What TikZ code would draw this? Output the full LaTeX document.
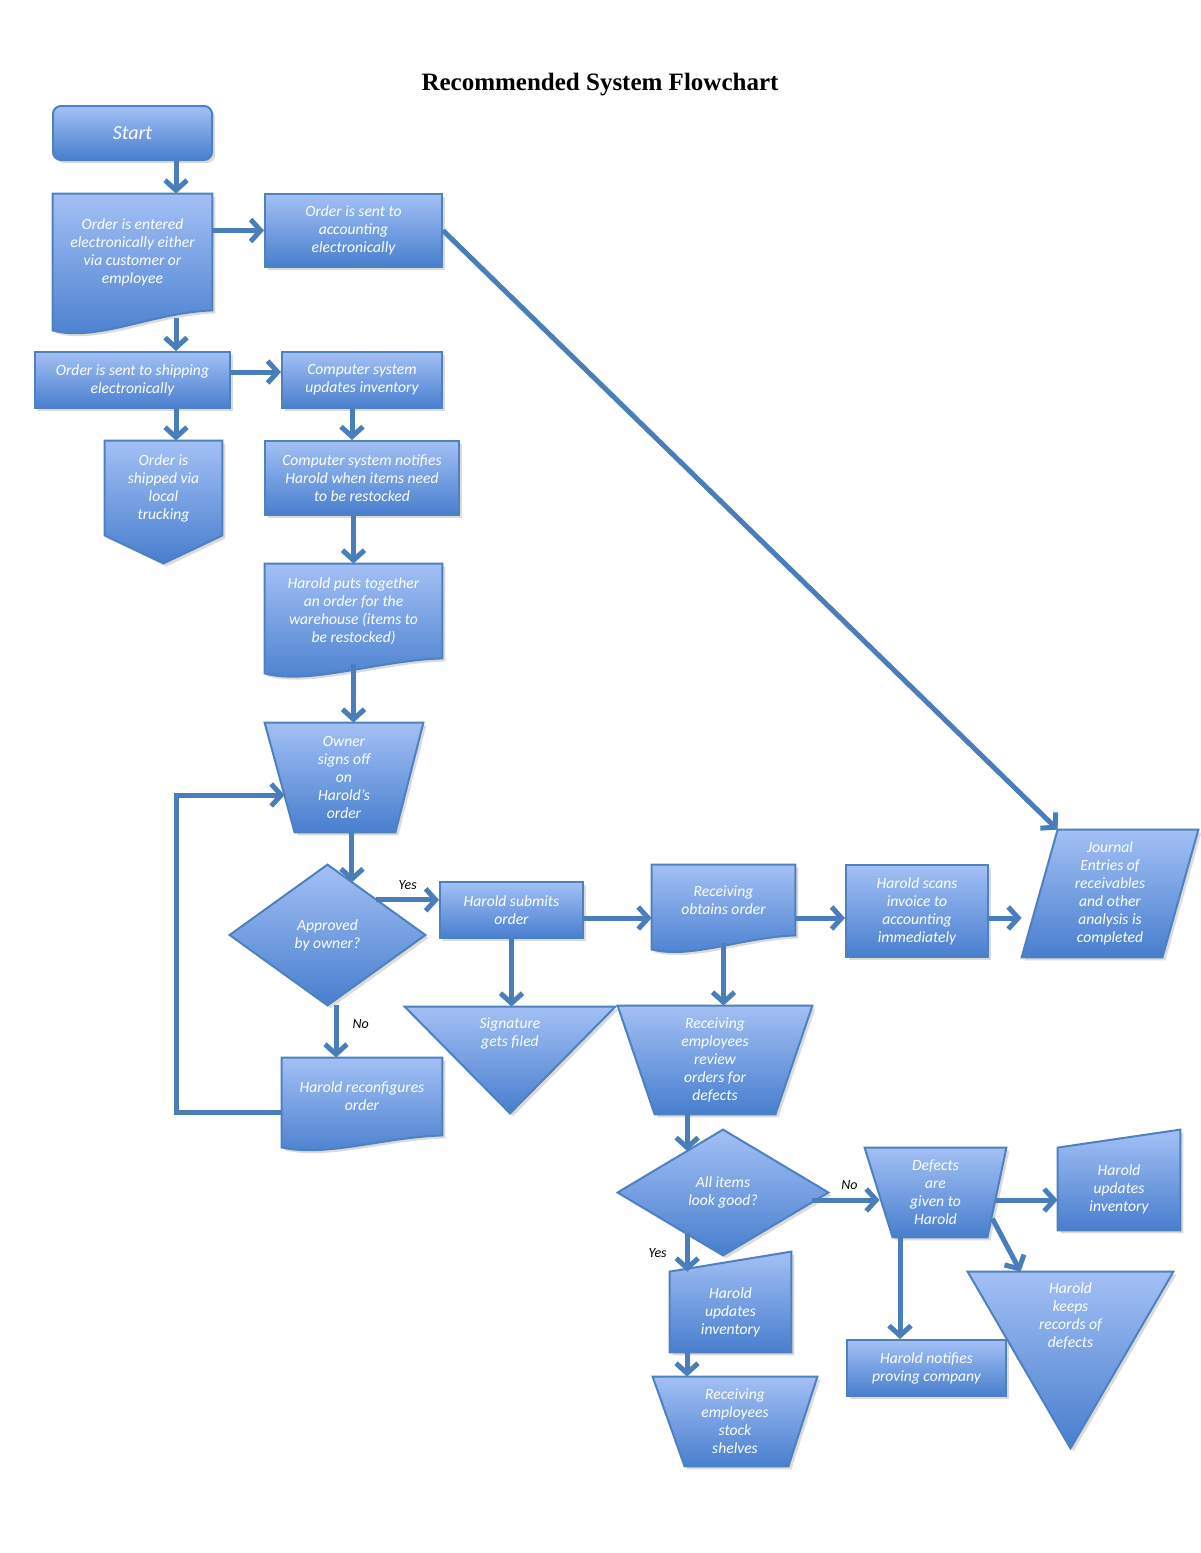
\documentclass[tikz,border=0pt]{standalone}
\usepackage{fontspec}
\setmainfont{Liberation Serif}
\newfontfamily\boxfamily{Carlito}
\usetikzlibrary{calc}
\usetikzlibrary{arrows.meta}
\usetikzlibrary{backgrounds}
\usetikzlibrary{shadows}
\definecolor{boxtop}{RGB}{163,192,245}
\definecolor{boxbot}{RGB}{72,126,206}
\definecolor{boxline}{RGB}{79,129,189}
\definecolor{flowblue}{RGB}{74,126,187}
\tikzset{
  lbl/.style={rectangle, inner sep=0pt, align=center, text=white,
    font=\boxfamily\itshape\fontsize{7.8}{9}\selectfont},
  fillshape/.style={draw=boxline, line width=1pt, top color=boxtop, bottom color=boxbot,
    drop shadow={shadow xshift=1.5pt, shadow yshift=-1.5pt, opacity=.35, fill=black!40}},
  procbox/.style={lbl, fillshape},
  flow/.style={draw=flowblue, line width=2.5pt, -{Straight Barb[length=5pt,width=11pt]}},
  answer/.style={font=\boxfamily\itshape\fontsize{7}{8}\selectfont, text=black, inner sep=1pt},
}

\begin{document}
\begin{tikzpicture}[x=0.5pt, y=-0.5pt]
    \useasboundingbox (0,0) rectangle (1200,1553);
    \node[font=\bfseries\fontsize{12.5}{15}\selectfont] (title) at (600,85) {Recommended System Flowchart};

    \node[procbox, rounded corners=4pt, minimum width=79.5pt, minimum height=27pt, font=\boxfamily\itshape\fontsize{10}{12}\selectfont] (start) at (132.5,133) {Start};
    \node[lbl, minimum width=79.5pt, minimum height=58pt] (enter) at (132.5,252) {Order is entered\\electronically either\\via customer or\\employee};
    \node[procbox, minimum width=88.5pt, minimum height=36.5pt] (accounting) at (353.5,230.5) {Order is sent to\\accounting\\electronically};
    \node[procbox, minimum width=97.5pt, minimum height=28pt] (shipping) at (132.5,380) {Order is sent to shipping\\electronically};
    \node[procbox, minimum width=80pt, minimum height=28pt] (inventory) at (362,380) {Computer system\\updates inventory};
    \node[lbl, minimum width=58.5pt, minimum height=47pt] (shipped) at (163.5,488) {Order is\\shipped via\\local\\trucking};
    \node[procbox, minimum width=97pt, minimum height=37pt] (notifies) at (362,478) {Computer system notifies\\Harold when items need\\to be restocked};
    \node[lbl, minimum width=88.5pt, minimum height=47pt] (puts) at (353.5,611) {Harold puts together\\an order for the\\warehouse (items to\\be restocked)};
    \node[lbl, minimum width=79pt, minimum height=54.5pt] (owner) at (344,777.5) {Owner\\signs off\\on\\Harold’s\\order};
    \node[lbl, minimum width=97.5pt, minimum height=70pt] (approved) at (327.5,935) {Approved\\by owner?};
    \node[procbox, minimum width=71.5pt, minimum height=28pt] (submits) at (511.5,910) {Harold submits\\order};
    \node[lbl, minimum width=80pt, minimum height=38.5pt] (reconf) at (362,1096.5) {Harold reconfigures\\order};
    \node[lbl, minimum width=105pt, minimum height=26.5pt] (signature) at (510,1033.5) {Signature\\gets filed};
    \node[lbl, minimum width=71.5pt, minimum height=35pt] (receiving) at (723.5,900) {Receiving\\obtains order};
    \node[procbox, minimum width=71pt, minimum height=46pt] (scans) at (917,911) {Harold scans\\invoice to\\accounting\\immediately};
    \node[lbl, minimum width=88pt, minimum height=63.5pt] (journal) at (1110,893.5) {Journal\\Entries of\\receivables\\and other\\analysis is\\completed};
    \node[lbl, minimum width=97pt, minimum height=54pt] (review) at (715,1060) {Receiving\\employees\\review\\orders for\\defects};
    \node[lbl, minimum width=105pt, minimum height=62.5pt] (allgood) at (723,1192.5) {All items\\look good?};
    \node[lbl, minimum width=70.5pt, minimum height=44.5pt] (defects) at (935.5,1192.5) {Defects\\are\\given to\\Harold};
    \node[lbl, minimum width=61pt, minimum height=41pt] (updright) at (1119,1189) {Harold\\updates\\inventory};
    \node[lbl, minimum width=102.5pt, minimum height=44pt] (keeps) at (1070.5,1316) {Harold\\keeps\\records of\\defects};
    \node[procbox, minimum width=79.5pt, minimum height=28pt] (proving) at (926.5,1368) {Harold notifies\\proving company};
    \node[lbl, minimum width=60.5pt, minimum height=40pt] (updleft) at (730.5,1312) {Harold\\updates\\inventory};
    \node[lbl, minimum width=82pt, minimum height=44.5pt] (stock) at (735,1421.5) {Receiving\\employees\\stock\\shelves};

    \begin{scope}[on background layer]
        \fill[white] (0,0) rectangle (1200,1553);
        \draw[fillshape] (enter.north west) -- (enter.north east) -- (enter.south east) .. controls +(-60,2) and +(45,12) .. ($(enter.south west)+(0,20)$) -- cycle;
        \draw[fillshape] (shipped.north west) -- (shipped.north east) -- (shipped.south east) -- ($(shipped.south)+(0,28)$) -- (shipped.south west) -- cycle;
        \draw[fillshape] (puts.north west) -- (puts.north east) -- (puts.south east) .. controls +(-65,2) and +(45,12) .. ($(puts.south west)+(0,15)$) -- cycle;
        \draw[fillshape] (owner.north west) -- (owner.north east) -- ($(owner.south east)+(-28,0)$) -- ($(owner.south west)+(30,0)$) -- cycle;
        \draw[fillshape] (approved.west) -- (approved.north) -- (approved.east) -- (approved.south) -- cycle;
        \draw[fillshape] (reconf.north west) -- (reconf.north east) -- (reconf.south east) .. controls +(-60,2) and +(45,10) .. ($(reconf.south west)+(0,12)$) -- cycle;
        \draw[fillshape] (signature.north west) -- (signature.north east) -- ($(signature.south)+(0,53)$) -- cycle;
        \draw[fillshape] (receiving.north west) -- (receiving.north east) -- (receiving.south east) .. controls +(-55,2) and +(40,10) .. ($(receiving.south west)+(0,14)$) -- cycle;
        \draw[fillshape] ($(journal.north west)+(36,0)$) -- (journal.north east) -- ($(journal.south east)+(-36,0)$) -- (journal.south west) -- cycle;
        \draw[fillshape] (review.north west) -- (review.north east) -- ($(review.south east)+(-37,0)$) -- ($(review.south west)+(37,0)$) -- cycle;
        \draw[fillshape] (allgood.west) -- (allgood.north) -- (allgood.east) -- (allgood.south) -- cycle;
        \draw[fillshape] (defects.north west) -- (defects.north east) -- ($(defects.south east)+(-19,0)$) -- ($(defects.south west)+(28,0)$) -- cycle;
        \draw[fillshape] (updright.north west) -- ($(updright.north east)+(0,-18)$) -- (updright.south east) -- (updright.south west) -- cycle;
        \draw[fillshape] (keeps.north west) -- (keeps.north east) -- ($(keeps.south)+(0,88)$) -- cycle;
        \draw[fillshape] (updleft.north west) -- ($(updleft.north east)+(0,-20)$) -- (updleft.south east) -- (updleft.south west) -- cycle;
        \draw[fillshape] (stock.north west) -- (stock.north east) -- ($(stock.south east)+(-29,0)$) -- ($(stock.south west)+(32,0)$) -- cycle;
    \end{scope}

    \coordinate (apin) at ($(approved.north)!0.25!(approved.east)$);
    \coordinate (apyes) at ($(approved.north)!0.5!(approved.east)$);
    \coordinate (agin) at ($(allgood.north)!0.34!(allgood.west)$);
    \coordinate (agout) at ($(allgood.south)!0.34!(allgood.west)$);
    \coordinate (loopc) at (176,795);

    \draw[flow] ([xshift=21.75pt]start.south) -- ([xshift=21.75pt]enter.north);
    \draw[flow] (enter.east |- accounting.west) -- (accounting.west);
    \draw[flow] (accounting.east) -- ([xshift=18pt]journal.north west);
    \draw[flow] ([xshift=21.75pt,yshift=-4pt]enter.south) -- ([xshift=21.75pt]shipping.north);
    \draw[flow] ([yshift=4pt]shipping.east) -- ([yshift=4pt]inventory.west);
    \draw[flow] ([xshift=21.75pt]shipping.south) -- ([xshift=6.25pt]shipped.north);
    \draw[flow] ([xshift=-5pt]inventory.south) -- ([xshift=-5pt]notifies.north);
    \draw[flow] (puts.north |- notifies.south) -- (puts.north);
    \draw[flow] ([yshift=-3pt]puts.south) -- (puts.south |- owner.north);
    \draw[flow] (apin |- owner.south) -- (apin);
    \draw[flow] (apyes) -- (apyes -| submits.west) node[answer, midway, above=3pt] {Yes};
    \draw[flow] ([xshift=4.25pt]approved.south) -- ([xshift=4.25pt]approved.south |- reconf.north) node[answer, pos=.35, right=6pt] {No};
    \draw[flow] ([yshift=-7.75pt]reconf.west) -| (loopc) -- ([xshift=10pt]owner.west |- loopc);
    \draw[flow] ([yshift=-4pt]submits.east) -- ([yshift=-4pt]submits.east -| receiving.west);
    \draw[flow] (submits.south) -- (submits.south |- signature.north);
    \draw[flow] ([yshift=-9pt]receiving.east) -- ([yshift=-9pt]receiving.east -| scans.west);
    \draw[flow] ([yshift=-3.5pt]scans.east) -- ([yshift=-3.5pt]scans.east -| journal.west);
    \draw[flow] ([yshift=-4pt]receiving.south) -- (receiving.south |- review.north);
    \draw[flow] (agin |- review.south) -- (agin);
    \draw[flow] ([xshift=-8pt,yshift=-3.75pt]allgood.east) -- ([xshift=7.5pt,yshift=-3.75pt]defects.west) node[answer, pos=.55, above=3pt] {No};
    \draw[flow] ([xshift=-5pt,yshift=-3.75pt]defects.east) -- ([yshift=-3.75pt]defects.east -| updright.west);
    \draw[flow] ([xshift=-7pt,yshift=-13pt]defects.east) -- ([xshift=-25pt]keeps.north);
    \draw[flow] ([xshift=-17.75pt]defects.south) -- ([xshift=-17.75pt]defects.south |- proving.north);
    \draw[flow] (agout) -- (agout |- updleft.north) node[answer, midway, left=8pt] {Yes};
    \draw[flow] ([xshift=-21.75pt]updleft.south) -- ([xshift=-21.75pt]updleft.south |- stock.north);
\end{tikzpicture}
\end{document}
